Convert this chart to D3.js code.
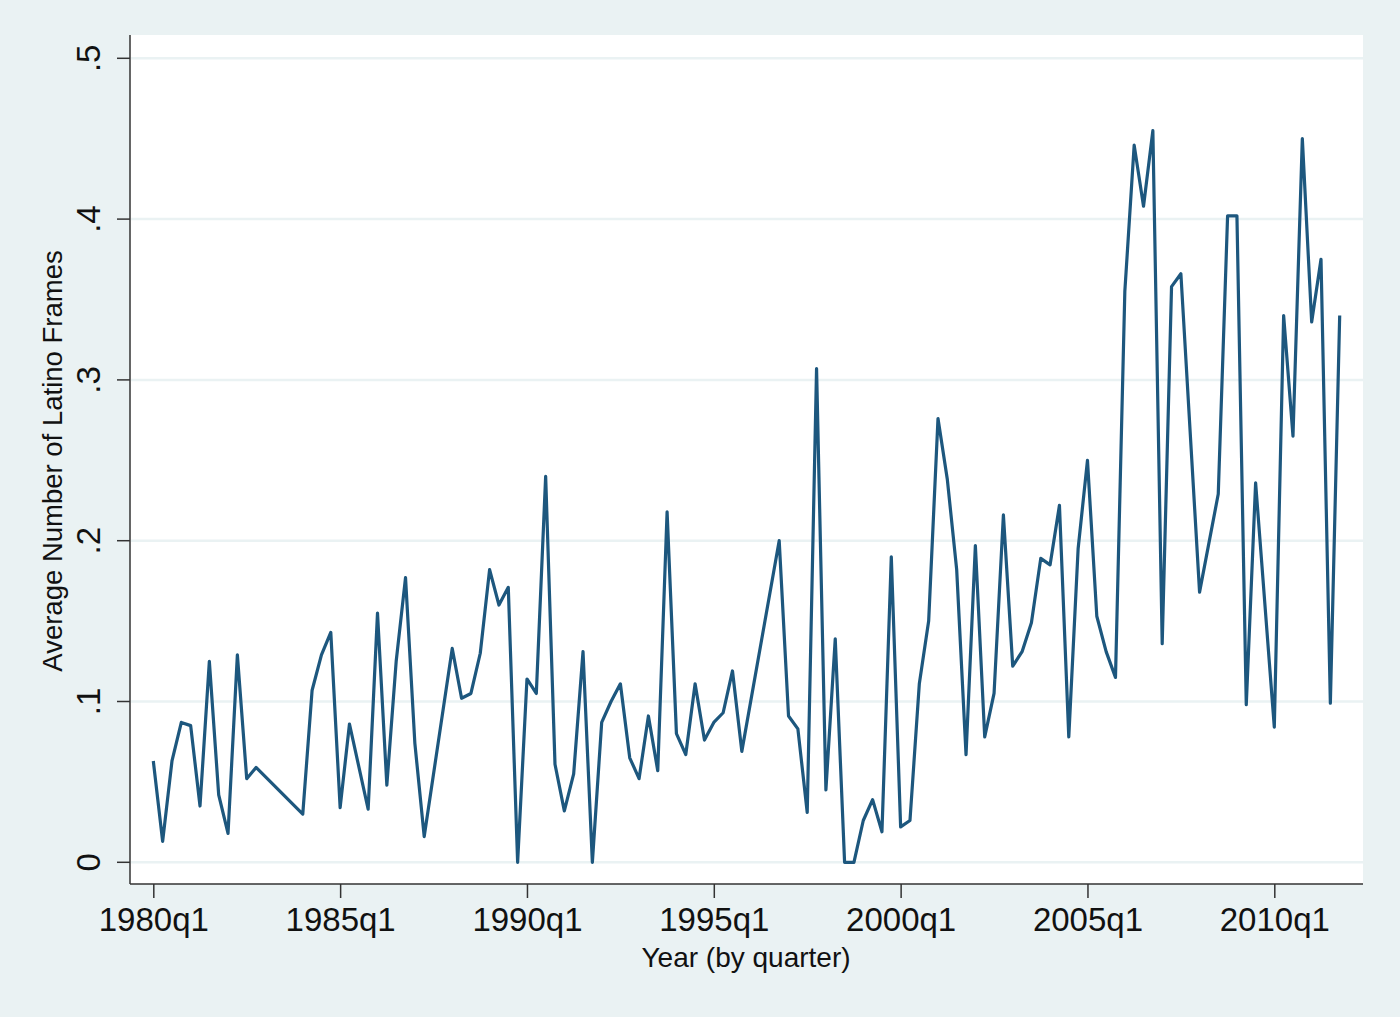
<!DOCTYPE html>
<html>
<head>
<meta charset="utf-8">
<script src="https://cdn.jsdelivr.net/npm/d3@7"></script>
<style>
  html, body { margin: 0; padding: 0; background: #eaf2f3; }
  svg { display: block; font-family: "Liberation Sans", Arial, Helvetica, sans-serif; }
</style>
</head>
<body>
<svg id="chart" width="1400" height="1017"></svg>
<script>
// quarter index counted from 1980q1 (0 = 1980q1); missing quarters are left out
const quarters = [
  0, 1, 2, 3, 4, 5, 6, 7, 8, 9, 10, 11,
  16, 17, 18, 19, 20, 21, 23, 24, 25, 26, 27, 28, 29,
  32, 33, 34, 35, 36, 37, 38, 39, 40, 41, 42, 43, 44, 45, 46, 47,
  48, 49, 50, 51, 52, 53, 54, 55, 56, 57, 58, 59, 60, 61, 62, 63,
  67, 68, 69, 70, 71, 72, 73, 74, 75, 76, 77, 78, 79,
  80, 81, 82, 83, 84, 85, 86, 87, 88, 89, 90, 91, 92, 93, 94, 95,
  96, 97, 98, 99, 100, 101, 102, 103, 104, 105, 106, 107, 108, 109, 110,
  112, 114, 115, 116, 117, 118, 120, 121, 122, 123, 124, 125, 126, 127
];
const frames = [
  0.063, 0.013, 0.063, 0.087, 0.085, 0.035, 0.125, 0.042, 0.018, 0.129, 0.052, 0.059,
  0.030, 0.107, 0.129, 0.143, 0.034, 0.086, 0.033, 0.155, 0.048, 0.125, 0.177, 0.074, 0.016,
  0.133, 0.102, 0.105, 0.130, 0.182, 0.160, 0.171, 0.000, 0.114, 0.105, 0.240, 0.061, 0.032, 0.055, 0.131, 0.000,
  0.087, 0.100, 0.111, 0.065, 0.052, 0.091, 0.057, 0.218, 0.080, 0.067, 0.111, 0.076, 0.087, 0.093, 0.119, 0.069,
  0.200, 0.091, 0.083, 0.031, 0.307, 0.045, 0.139, 0.000, 0.000, 0.026, 0.039, 0.019, 0.190,
  0.022, 0.026, 0.111, 0.150, 0.276, 0.238, 0.182, 0.067, 0.197, 0.078, 0.105, 0.216, 0.122, 0.131, 0.149, 0.189,
  0.185, 0.222, 0.078, 0.195, 0.250, 0.153, 0.131, 0.115, 0.355, 0.446, 0.408, 0.455, 0.136, 0.358, 0.366,
  0.168, 0.229, 0.402, 0.402, 0.098, 0.236, 0.084, 0.340, 0.265, 0.450, 0.336, 0.375, 0.099, 0.340
];
const xTickQuarters = [0, 20, 40, 60, 80, 100, 120];
const xTickLabels = ["1980q1", "1985q1", "1990q1", "1995q1", "2000q1", "2005q1", "2010q1"];
const yTicks = [0, 0.1, 0.2, 0.3, 0.4, 0.5];
const yTickLabels = ["0", ".1", ".2", ".3", ".4", ".5"];

const svg = d3.select("#chart");

// plot region (white box)
const plot = { left: 130, right: 1363, top: 35, bottom: 884 };

const x = d3.scaleLinear().domain([0, 120]).range([153.3, 1274.3]);
const y = d3.scaleLinear().domain([0, 0.5]).range([862.3, 58.3]);

svg.append("rect")
  .attr("width", 1400).attr("height", 1017)
  .attr("fill", "#eaf2f3");

svg.append("rect")
  .attr("x", plot.left).attr("y", plot.top)
  .attr("width", plot.right - plot.left)
  .attr("height", plot.bottom - plot.top)
  .attr("fill", "#ffffff");

// gridlines
svg.append("g")
  .selectAll("line")
  .data(yTicks)
  .join("line")
  .attr("x1", plot.left + 1).attr("x2", plot.right)
  .attr("y1", d => y(d)).attr("y2", d => y(d))
  .attr("stroke", "#eaf2f3")
  .attr("stroke-width", 2.5);

// series line
const line = d3.line()
  .x((d, i) => x(quarters[i]))
  .y(d => y(d));

svg.append("path")
  .datum(frames)
  .attr("d", line)
  .attr("fill", "none")
  .attr("stroke", "#1d577e")
  .attr("stroke-width", 3.2)
  .attr("stroke-linejoin", "round");

// x axis
const xAxis = d3.axisBottom(x)
  .tickValues(xTickQuarters)
  .tickFormat((d, i) => xTickLabels[i])
  .tickSize(14)
  .tickSizeOuter(0)
  .tickPadding(10);

const gx = svg.append("g")
  .attr("transform", `translate(0,${plot.bottom})`)
  .call(xAxis);
gx.select(".domain").remove();
gx.selectAll(".tick line").attr("stroke", "#333").attr("stroke-width", 1.5);
gx.selectAll(".tick text")
  .attr("font-size", 33)
  .attr("fill", "#111")
  .attr("font-family", "'Liberation Sans', Arial, sans-serif");

// y axis ticks
const gy = svg.append("g");
gy.selectAll("line")
  .data(yTicks)
  .join("line")
  .attr("x1", plot.left - 13).attr("x2", plot.left)
  .attr("y1", d => y(d)).attr("y2", d => y(d))
  .attr("stroke", "#333").attr("stroke-width", 1.5);
gy.selectAll("text")
  .data(yTicks)
  .join("text")
  .attr("transform", d => `translate(100,${y(d)}) rotate(-90)`)
  .attr("text-anchor", "middle")
  .attr("font-size", 33)
  .attr("fill", "#111")
  .text((d, i) => yTickLabels[i]);

// axis lines
svg.append("line")
  .attr("x1", plot.left).attr("x2", plot.left)
  .attr("y1", plot.top).attr("y2", plot.bottom)
  .attr("stroke", "#333").attr("stroke-width", 1.5);
svg.append("line")
  .attr("x1", plot.left).attr("x2", plot.right)
  .attr("y1", plot.bottom).attr("y2", plot.bottom)
  .attr("stroke", "#333").attr("stroke-width", 1.5);

// axis titles
svg.append("text")
  .attr("x", 746).attr("y", 967)
  .attr("text-anchor", "middle")
  .attr("font-size", 28)
  .attr("fill", "#111")
  .text("Year (by quarter)");

svg.append("text")
  .attr("transform", "translate(62,461) rotate(-90)")
  .attr("text-anchor", "middle")
  .attr("font-size", 27.5)
  .attr("fill", "#111")
  .text("Average Number of Latino Frames");
</script>
</body>
</html>
